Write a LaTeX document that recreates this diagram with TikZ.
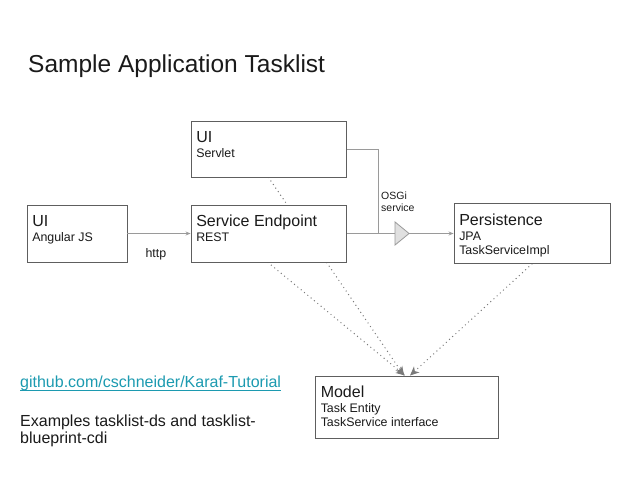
\documentclass[tikz,border=0pt]{standalone}
\usepackage{fontspec}
\setmainfont{Liberation Sans}
\usetikzlibrary{shapes.geometric, arrows.meta}
\pgfdeclarelayer{background}
\pgfsetlayers{background,main}
\definecolor{linegrey}{HTML}{9A9A9A}
\definecolor{dotgrey}{HTML}{7A7A7A}
\definecolor{boxgrey}{HTML}{5E5E5E}
\definecolor{linkteal}{HTML}{1C9AB0}
\definecolor{textdark}{HTML}{1A1A1A}
\tikzstyle{block} = [rectangle, draw=boxgrey, line width=0.9pt, fill=white, inner sep=0pt]
\tikzstyle{head} = [anchor=base west, inner sep=0pt, text=textdark, font=\fontsize{16}{18}\selectfont]
\tikzstyle{sub} = [anchor=base west, inner sep=0pt, text=textdark, font=\fontsize{12.4}{14}\selectfont]
\tikzstyle{line} = [draw=linegrey, line width=0.9pt]
\tikzstyle{arrow} = [line, -{Stealth[length=5pt, width=4pt]}]
\tikzstyle{depend} = [draw=dotgrey, line width=1.4pt, line cap=round, dash pattern=on 0pt off 4.3pt, -{Stealth[length=9pt, width=8pt, inset=2.5pt]}]

\begin{document}
\begin{tikzpicture}[x=1pt, y=-1pt]
\useasboundingbox (0,0) rectangle (638,478);
% NODES
\node (title) [anchor=base west, inner sep=0pt, text=textdark, font=\fontsize{24.5}{28}\selectfont] at (28,72.5) {Sample Application Tasklist};

\node (servlet) [block, minimum width=155, minimum height=56] at (268.5,149) {};
\node (servlet-head) [head] at ([shift={(5.5,22)}]servlet.north west) {UI};
\node (servlet-sub) [sub] at ([shift={(5.5,37)}]servlet.north west) {Servlet};

\node (angular) [block, minimum width=100, minimum height=57] at (77,233.5) {};
\node (angular-head) [head] at ([shift={(5.5,22)}]angular.north west) {UI};
\node (angular-sub) [sub] at ([shift={(5.5,37)}]angular.north west) {Angular JS};

\node (endpoint) [block, minimum width=155, minimum height=57] at (268.5,233.5) {};
\node (endpoint-head) [head] at ([shift={(5.5,22)}]endpoint.north west) {Service Endpoint};
\node (endpoint-sub) [sub] at ([shift={(5.5,37)}]endpoint.north west) {REST};

\node (persistence) [block, minimum width=156, minimum height=60] at (532,233.5) {};
\node (persistence-head) [head] at ([shift={(5.5,22)}]persistence.north west) {Persistence};
\node (persistence-sub) [sub] at ([shift={(5.5,37)}]persistence.north west) {\begin{tabular}[t]{@{}l@{}}JPA\\TaskServiceImpl\end{tabular}};

\node (model) [block, minimum width=183, minimum height=62] at (407,407) {};
\node (model-head) [head] at ([shift={(5.5,22)}]model.north west) {Model};
\node (model-sub) [sub] at ([shift={(5.5,37)}]model.north west) {\begin{tabular}[t]{@{}l@{}}Task Entity\\TaskService interface\end{tabular}};

\coordinate (join) at (378,233.5);
\node (service) [isosceles triangle, isosceles triangle stretches, minimum width=23, minimum height=14, inner sep=0pt, draw=linegrey, fill=black!12, line width=0.8pt] at (400.5,233.5) {};
\node (osgi) [anchor=base west, inner sep=0pt, text=textdark, font=\fontsize{10.5}{12.4}\selectfont] at (381,199.3) {\begin{tabular}[t]{@{}l@{}}OSGi\\service\end{tabular}};

\node (repo) [anchor=base west, inner sep=0pt, text=linkteal, font=\fontsize{16}{18}\selectfont] at (20,388) {github.com/cschneider/Karaf-Tutorial};
\draw [linkteal, line width=0.9pt] ([yshift=-2.5pt]repo.base west) -- ([yshift=-2.5pt]repo.base east);
\node (examples) [anchor=base west, inner sep=0pt, text=textdark, font=\fontsize{16}{16.8}\selectfont] at (20,426.7) {\begin{tabular}[t]{@{}l@{}}Examples tasklist-ds and tasklist-\\blueprint-cdi\end{tabular}};

% ARROWS
\draw [arrow] (angular) -- node[pos=0.45, anchor=base, yshift=-24.5pt, inner sep=0pt, text=textdark, font=\fontsize{12.4}{14}\selectfont] {http} (endpoint);

\begin{pgfonlayer}{background}
\draw [line] (servlet.east) -| (join);
\draw [arrow] (endpoint) -- (persistence);
\draw [depend] (servlet.south) -- ([xshift=-3pt]model.north);
\draw [depend] ([xshift=-0.5pt]endpoint.south) -- ([xshift=-2pt]model.north);
\draw [depend] (persistence.south) -- ([xshift=3pt]model.north);
\end{pgfonlayer}
\end{tikzpicture}
\end{document}
